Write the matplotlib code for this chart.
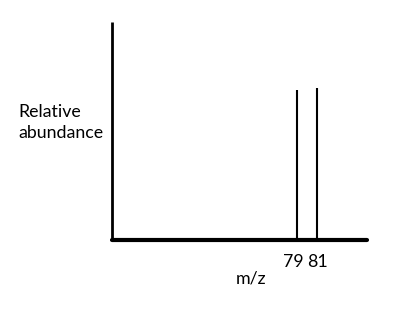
import matplotlib
matplotlib.use("Agg")
import matplotlib.pyplot as plt
from matplotlib.transforms import ScaledTranslation

# Data
mz = [79, 81]
abundance = [98.7, 100]
tick_labels = ["79", "81"]

plt.rcParams['font.family'] = ['Lato', 'DejaVu Sans']
FS = 12.8

fig = plt.figure(figsize=(4.0, 3.19), dpi=100)
ax = fig.add_axes([112/400, 1 - 240/319, 255/400, 218/319])

ax.vlines(mz, 0, abundance, colors='black', linewidth=1.5)

ax.set_xlim(60.5, 86.0)
ax.set_ylim(0, 143.4)

for s in ['top', 'right']:
    ax.spines[s].set_visible(False)
ax.spines['left'].set_linewidth(2.0)
ax.spines['bottom'].set_linewidth(3.0)
ax.spines['left'].set_capstyle('butt')
ax.spines['bottom'].set_capstyle('round')

ax.set_yticks([])
ax.set_xticks(mz)
ax.set_xticklabels(tick_labels, fontsize=FS)
ax.tick_params(axis='x', length=0, pad=10)
ticks = ax.xaxis.get_major_ticks()
ticks[0].label1.set_transform(ticks[0].label1.get_transform()
                              + ScaledTranslation(-3.5 / 100, 0, fig.dpi_scale_trans))

ax.set_xlabel("m/z", fontsize=FS)
ax.xaxis.set_label_coords((251 - 112) / 255, -(279 - 240) / 218)
ax.xaxis.label.set_va('center')

ax.set_ylabel("Relative\nabundance", fontsize=FS, rotation=0,
              ha='left', va='center', multialignment='left', linespacing=1.35)
ax.yaxis.set_label_coords((18 - 112) / 255, (240 - 122.5) / 218)

fig.savefig("out.png", dpi=100)
